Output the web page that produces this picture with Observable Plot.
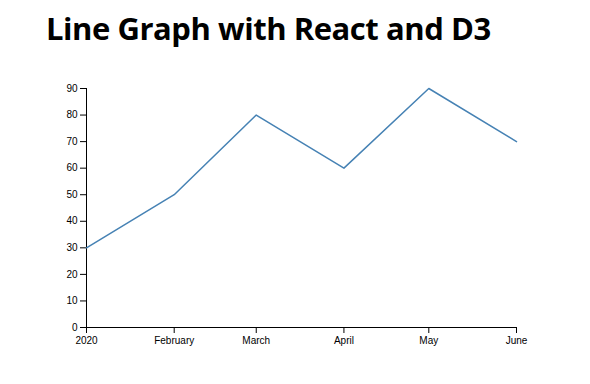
<!DOCTYPE html>
<html>
<head>
<meta charset="utf-8">
<script src="https://cdn.jsdelivr.net/npm/d3@7"></script>
<script src="https://cdn.jsdelivr.net/npm/@observablehq/plot@0.6"></script>
<style>
  html, body { margin: 0; padding: 0; background: #fff; }
  #wrap { width: 590px; height: 384px; position: relative; overflow: hidden; }
  h1 { margin: 0; position: absolute; left: 46px; top: 8px; font-family: "Open Sans", sans-serif; font-weight: 700; font-size: 31px; line-height: 40px; color: #000; letter-spacing: -0.45px; white-space: nowrap; }
  #chart { position: absolute; left: 0; top: 56px; }
</style>
</head>
<body>
<div id="wrap">
  <h1>Line Graph with React and D3</h1>
  <div id="chart"></div>
</div>
<script>
const months = ["2020-01-01", "2020-02-01", "2020-03-01", "2020-04-01", "2020-05-01", "2020-06-01"];
const values = [30, 50, 80, 60, 90, 70];
const yTicks = [0, 10, 20, 30, 40, 50, 60, 70, 80, 90];

const dates = months.map(s => new Date(s + "T00:00:00Z"));
const data = dates.map((d, i) => ({date: d, value: values[i]}));
const fmt = d => d.getUTCMonth() === 0 ? d3.utcFormat("%Y")(d) : d3.utcFormat("%B")(d);

const plot = Plot.plot({
  width: 590,
  height: 328,
  marginLeft: 86,
  marginRight: 74,
  marginTop: 32,
  marginBottom: 57,
  style: {fontFamily: "'Liberation Sans', Arial, sans-serif", fontSize: "10px", color: "#000", background: "#fff"},
  x: {type: "utc", domain: [dates[0], dates[dates.length - 1]]},
  y: {domain: [0, 90]},
  marks: [
    Plot.axisX({ticks: dates, tickFormat: fmt, tickSize: 6, tickPadding: 3, label: null, stroke: "#000", fill: "#000"}),
    Plot.axisY({ticks: yTicks, tickSize: 6, tickPadding: 3, label: null, stroke: "#000", fill: "#000"}),
    Plot.ruleY([0], {stroke: "#000"}),
    Plot.ruleX([dates[0]], {y1: 0, y2: 90, stroke: "#000"}),
    Plot.line(data, {x: "date", y: "value", stroke: "steelblue", strokeWidth: 1.5, curve: "linear"})
  ]
});
document.getElementById("chart").appendChild(plot);
</script>
</body>
</html>
